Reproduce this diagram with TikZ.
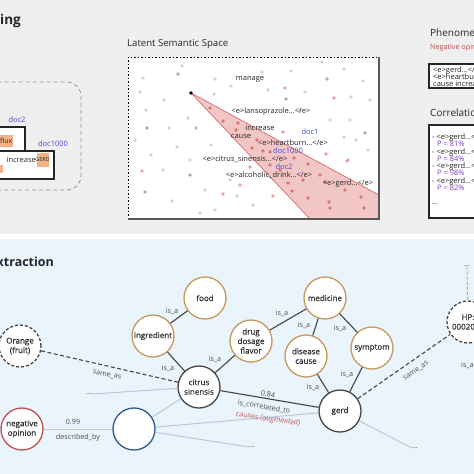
\documentclass[tikz,border=0pt]{standalone}
\usepackage{fontspec}
\setmainfont{Open Sans}
\newfontfamily\medfont[FakeBold=0.6]{Open Sans}
\definecolor{panelgrey}{HTML}{EFEFEF}
\definecolor{panelblue}{HTML}{EAF4FC}
\definecolor{gold}{HTML}{C49A5A}
\definecolor{darkline}{HTML}{454545}
\definecolor{lightline}{HTML}{B9C9D9}
\definecolor{docblue}{HTML}{4B4BCF}
\definecolor{negred}{HTML}{C0504D}
\definecolor{hl}{HTML}{F4B183}
\definecolor{ppurple}{HTML}{8040C0}
\definecolor{fanfill}{HTML}{F3C6C6}
\definecolor{fanline}{HTML}{D46A6A}
\definecolor{dotgrey}{HTML}{D3D3D3}
\definecolor{dotgreen}{HTML}{9FB890}
\definecolor{dotpink}{HTML}{E6A2A2}
\definecolor{dotred}{HTML}{D7767A}
\definecolor{nodeblue}{HTML}{2F5A87}
\newcommand\fsz[2]{\fontsize{#1}{#2}\selectfont}
\tikzset{
  concept/.style={circle, draw=gold, fill=white, line width=1.3pt, minimum size=42pt, inner sep=0pt, align=center, font=\medfont\fsz{8}{9.5}, text=black!80},
  entity/.style={concept, draw=darkline},
  dashent/.style={concept, draw=darkline, dash pattern=on 3pt off 2pt},
  isa/.style={font=\fsz{7.2}{8}, text=black!70, inner sep=0pt},
  rel/.style={draw=darkline, line width=1.1pt},
  dashrel/.style={draw=darkline, line width=1.1pt, dash pattern=on 4pt off 2.5pt},
  soft/.style={draw=lightline, line width=1pt},
  lat/.style={font=\fsz{7.5}{8}, text=black!85, inner sep=0pt},
  docl/.style={font=\fsz{7.5}{8}, text=docblue, inner sep=0pt},
  boxtxt/.style={font=\fsz{7.5}{8}, text=black!85, inner sep=0pt, anchor=base west},
  ptxt/.style={font=\fsz{7.5}{8}, text=ppurple, inner sep=0pt, anchor=base west},
  heading/.style={font=\fsz{9.6}{10}, text=black!85, inner sep=0pt, anchor=base west},
  docbox/.style={draw=black!85, fill=white, line width=1.2pt}
}
\begin{document}
\begin{tikzpicture}[x=1pt,y=-1pt]
\useasboundingbox (0,0) rectangle (474,474);
\clip (0,0) rectangle (474,474);
\fill[white] (0,0) rectangle (474,474);
\fill[panelgrey] (0,0) rectangle (474,234);
\fill[panelblue] (0,239) rectangle (474,474);

% ---------- top panel ----------
\node[font=\bfseries\fsz{13.5}{14}, inner sep=0pt, anchor=base west, text=black!85] (titletop) at (0,24) {ing};

\draw[black!40, line width=0.9pt, dash pattern=on 4pt off 3pt, rounded corners=14pt] (-20,82) rectangle (81,190);
\node[docl] (ldoc2) at (17,120) {doc2};
\draw[docbox] (-5,127) rectangle (25,158);
\fill[hl] (-5,135) rectangle (13,147);
\node[boxtxt, anchor=east, font=\fsz{7}{8}] (flux) at (12.5,141) {flux};
\node[docl] (ldoc1000) at (53,144) {doc1000};
\draw[docbox] (-5,151) rectangle (54,179);
\fill[hl] (36.5,153) rectangle (48.5,167);
\fill[hl] (-5,165) rectangle (3,173);
\node[boxtxt, anchor=east, font=\fsz{7.5}{8}] (incr) at (36,160) {increase};
\node[boxtxt, anchor=center, font=\fsz{5.5}{7}] (gerdhl) at (42.5,160) {GERD};

% latent space
\node[heading] (lss) at (127,46) {Latent Semantic Space};
\fill[white] (128,57) rectangle (379,219);
\filldraw[fill=fanfill, draw=fanline, line width=0.7pt] (191,93) -- (379,195) -- (379,219) -- (310,219) -- cycle;
\foreach \x/\y in {143/78,215/79,231/86,164/100,214/94,146/110,188/118,169/128,211/145,177/147,151/155,163/170,205/190,172/201,215/210,322/62,291/71,344/69,363/81,268/90,305/92,351/97,330/120,350/120,344/137,253/205,237/196,200/213,368/150,140/92,182/66,262/72,300/110,356/140,230/180,190/160,370/100,135/140}
  \fill[dotgrey] (\x,\y) circle (1.9pt);
\foreach \x/\y in {178/74,147/128,190/175,145/192,327/79,286/99,365/133}
  \fill[dotgreen] (\x,\y) circle (1.9pt);
\foreach \x/\y in {196/128,142/171,223/194,285/88,334/98,348/160,326/154,283/132,250/167,273/196,347/161,240/185}
  \fill[dotpink] (\x,\y) circle (1.9pt);
\foreach \x/\y in {210/108,223/121,238/123,236/130,257/140,252/148,263/151,270/152,294/158,308/164,303/180,320/175,288/183,292/191,308/198,329/202,330/208,361/197,364/208,325/182,345/190,280/170,270/165}
  \fill[dotred] (\x,\y) circle (1.9pt);
\fill[black] (191,93) circle (1.8pt);
\node[lat] (t1) at (250,79) {manage};
\node[lat] (t2) at (271,112) {<e>lansoprazole...</e>};
\node[lat] (t3) at (260,128) {increase};
\node[lat] (t4) at (241,136) {cause};
\node[docl] (t5) at (310,132) {doc1};
\node[lat] (t6) at (293,143) {<e>heartburn...</e>};
\node[docl] (t7) at (288,151) {doc1000};
\node[lat] (t8) at (245,159) {<e>citrus\_sinensis...</e>};
\node[docl] (t9) at (284,167) {doc2};
\node[lat] (t10) at (269,175) {<e>alcoholic\_drink...</e>};
\node[lat] (t11) at (348,184) {<e>gerd...</e>};
\draw[black, line width=0.8pt, dash pattern=on 1.5pt off 2pt] (128,219) -- (128,57) -- (379,57);
\draw[black!65, line width=1.6pt] (128,219) -- (379,219) -- (379,57);

% right column
\node[heading, font=\fsz{10}{11}] (phen) at (430,36) {Phenomenon};
\node[boxtxt, font=\fsz{7.2}{8}, text=negred] (negop) at (430,49.5) {Negative opinion};
\draw[docbox] (429,64) rectangle (480,88);
\node[boxtxt] (p1) at (433,72.5) {<e>gerd...</e>};
\node[boxtxt] (p2) at (433,79.5) {<e>heartburn...</e>};
\node[boxtxt] (p3) at (433,86) {cause increase};
\node[heading, font=\fsz{10}{11}] (corr) at (430,116) {Correlation};
\draw[docbox] (429,125) rectangle (480,218);
\node[boxtxt] (c1) at (432,139.5) {- <e>gerd...</e>};
\node[ptxt] (c1p) at (437,146.5) {P = 81\%};
\node[boxtxt] (c2) at (432,154) {- <e>gerd...</e>};
\node[ptxt] (c2p) at (437,161) {P = 84\%};
\node[boxtxt] (c3) at (432,168.5) {- <e>gerd...</e>};
\node[ptxt] (c3p) at (437,175.5) {P = 98\%};
\node[boxtxt] (c4) at (432,183) {- <e>gerd...</e>};
\node[ptxt] (c4p) at (437,190) {P = 82\%};
\node[boxtxt] (c5) at (432,204) {...};

% ---------- bottom panel ----------
\node[font=\bfseries\fsz{12.5}{13}, inner sep=0pt, anchor=base west, text=black!85] (titlebot) at (-3.5,266) {xtraction};

\node[concept] (food) at (205,298) {food};
\node[concept] (ingr) at (153,336) {ingredient};
\node[concept] (drug) at (251,341) {drug\\dosage\\flavor};
\node[concept] (med) at (325,298) {medicine};
\node[concept] (dis) at (306,356) {disease\\cause};
\node[concept] (sym) at (372,348) {symptom};
\node[entity] (citrus) at (199,387) {citrus\\sinensis};
\node[entity] (gerd) at (340,411) {gerd};
\node[dashent] (orange) at (20,346) {Orange\\(fruit)};
\node[dashent] (hp) at (468,322) {HP:\\0002020};
\node[entity, draw=negred] (neg) at (22,429) {negative\\opinion};
\node[entity, draw=nodeblue] (blank) at (134,429) {};

\node[isa] (dotsL) at (89,394) {...};
\node[isa] (dotsM) at (252,447) {...};
\node[isa] (dotsR) at (415,448) {...};
\node[isa] (dotsT) at (467,266) {...};

\draw[rel] (food) -- (ingr);
\draw[rel] (ingr) -- (citrus);
\draw[rel] (drug) -- (citrus);
\draw[rel] (drug) -- (med);
\draw[rel] (med) -- (dis);
\draw[rel] (med) -- (sym);
\draw[rel] (dis) -- (gerd);
\draw[rel] (sym) -- (gerd);
\draw[rel] (citrus) -- (gerd);
\draw[dashrel] (orange) -- (citrus);
\draw[dashrel] (gerd) -- (hp);
\draw[soft] (dotsL.east) -- (citrus);
\draw[soft] (blank) -- (citrus);
\draw[soft] (blank) -- (gerd);
\draw[soft] (blank) -- (dotsM.west);
\draw[soft] (gerd) -- (dotsR.west);
\draw[soft] (neg) -- (blank);
\draw[black!35, line width=0.9pt, dash pattern=on 3pt off 2pt] (dotsT.south) -- (hp);

\node[isa] (l1) at (172,311) {is\_a};
\node[isa] (l2) at (168,368) {is\_a};
\node[isa] (l3) at (215,359) {is\_a};
\node[isa] (l4) at (282,313) {is\_a};
\node[isa] (l5) at (304,325) {is\_a};
\node[isa] (l6) at (340,328) {is\_a};
\node[isa] (l7) at (313,387) {is\_a};
\node[isa] (l8) at (347,374) {is\_a};
\node[isa, anchor=west] (l9) at (461,365) {is\_a};
\node[isa, rotate=-11] (s1) at (107,375) {same\_as};
\node[isa, rotate=35] (s2) at (416,371) {same\_as};
\node[isa, rotate=-9.5] (w1) at (268,394) {0.84};
\node[isa, rotate=-9.5] (w2) at (264,407) {is\_correlated\_to};
\node[isa, rotate=-8, text=negred] (w3) at (268,419) {causes \textit{(augmented)}};
\node[isa] (w4) at (73,422) {0.99};
\node[isa] (w5) at (78,438) {described\_by};
\end{tikzpicture}
\end{document}
